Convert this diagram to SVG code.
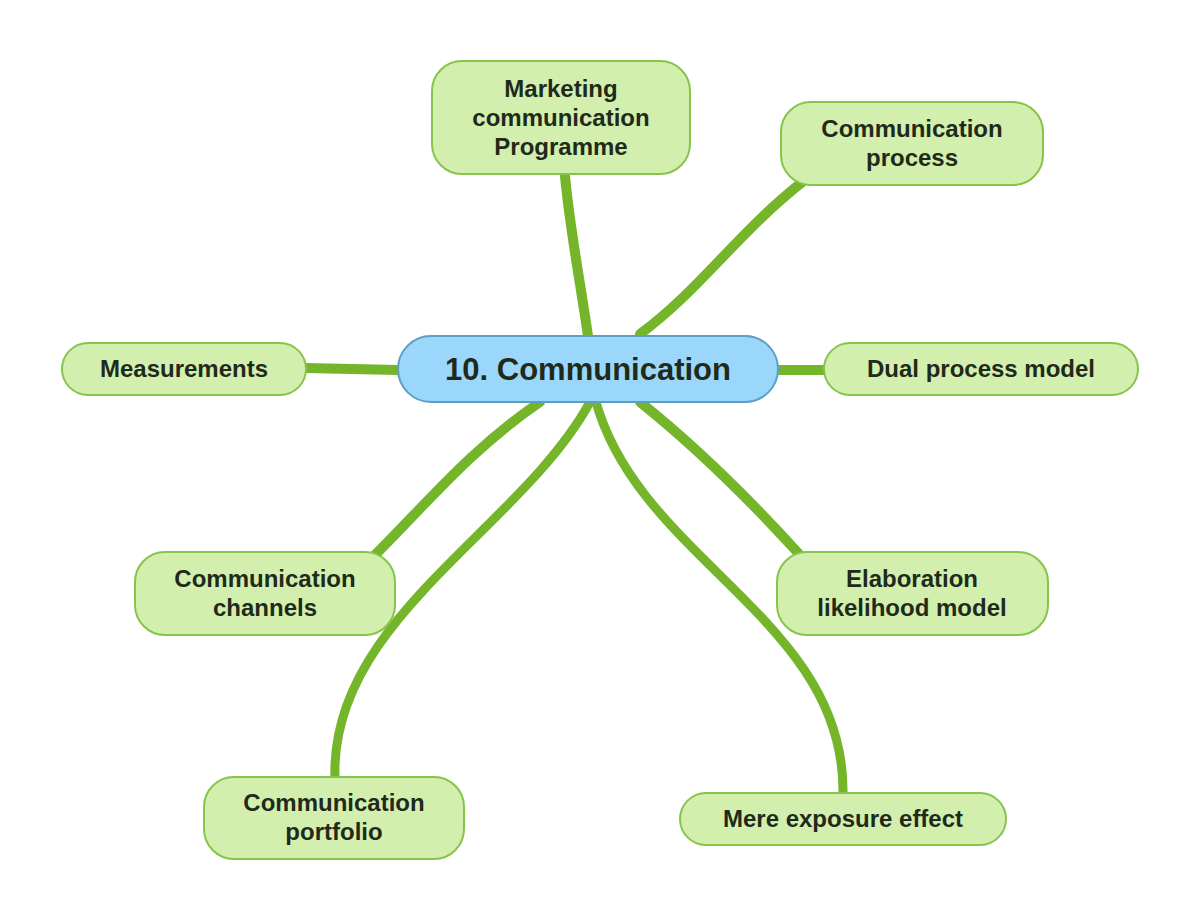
<svg xmlns="http://www.w3.org/2000/svg" width="1200" height="921" viewBox="0 0 1200 921">
<style>
.n{fill:#d3efae;stroke:#86c44a;stroke-width:2}
.t{font-family:"Liberation Sans",Arial,sans-serif;font-weight:bold;font-size:24px;fill:#1f2a1a;text-anchor:middle}
.c{fill:none;stroke:#74b52a;stroke-linecap:round}
</style>
<rect width="1200" height="921" fill="#fff"/>
<g id="connectors">
<path class="c" stroke-width="10" d="M588,336 C580,280 570,230 565,176"/>
<path class="c" stroke-width="10" d="M640,334 C700,290 740,230 805,180"/>
<path class="c" stroke-width="10" d="M398,370 L306,368"/>
<path class="c" stroke-width="10" d="M778,370 L824,370"/>
<path class="c" stroke-width="10" d="M540,402 C470,450 430,500 375,555"/>
<path class="c" stroke-width="10" d="M640,402 C700,450 750,500 800,555"/>
<path class="c" stroke-width="9" d="M590,402 C520,530 330,620 335,777"/>
<path class="c" stroke-width="9" d="M596,402 C640,560 845,620 843,793"/>
</g>
<g id="center"><rect x="398" y="336" width="380" height="66" rx="33" fill="#9ad7fa" stroke="#5b9fc6" stroke-width="2"/><text class="t" x="588" y="380" style="font-size:31px">10. Communication</text></g>
<g id="marketing"><rect class="n" x="432" y="61" width="258" height="113" rx="30"/><text class="t" x="561" y="97">Marketing</text><text class="t" x="561" y="126">communication</text><text class="t" x="561" y="155">Programme</text></g>
<g id="process"><rect class="n" x="781" y="102" width="262" height="83" rx="30"/><text class="t" x="912" y="137">Communication</text><text class="t" x="912" y="166">process</text></g>
<g id="measurements"><rect class="n" x="62" y="343" width="244" height="52" rx="26"/><text class="t" x="184" y="377">Measurements</text></g>
<g id="dual"><rect class="n" x="824" y="343" width="314" height="52" rx="26"/><text class="t" x="981" y="377">Dual process model</text></g>
<g id="channels"><rect class="n" x="135" y="552" width="260" height="83" rx="30"/><text class="t" x="265" y="587">Communication</text><text class="t" x="265" y="616">channels</text></g>
<g id="elaboration"><rect class="n" x="777" y="552" width="271" height="83" rx="30"/><text class="t" x="912" y="587">Elaboration</text><text class="t" x="912" y="616">likelihood model</text></g>
<g id="portfolio"><rect class="n" x="204" y="777" width="260" height="82" rx="30"/><text class="t" x="334" y="811">Communication</text><text class="t" x="334" y="840">portfolio</text></g>
<g id="mere"><rect class="n" x="680" y="793" width="326" height="52" rx="26"/><text class="t" x="843" y="827">Mere exposure effect</text></g>
</svg>
